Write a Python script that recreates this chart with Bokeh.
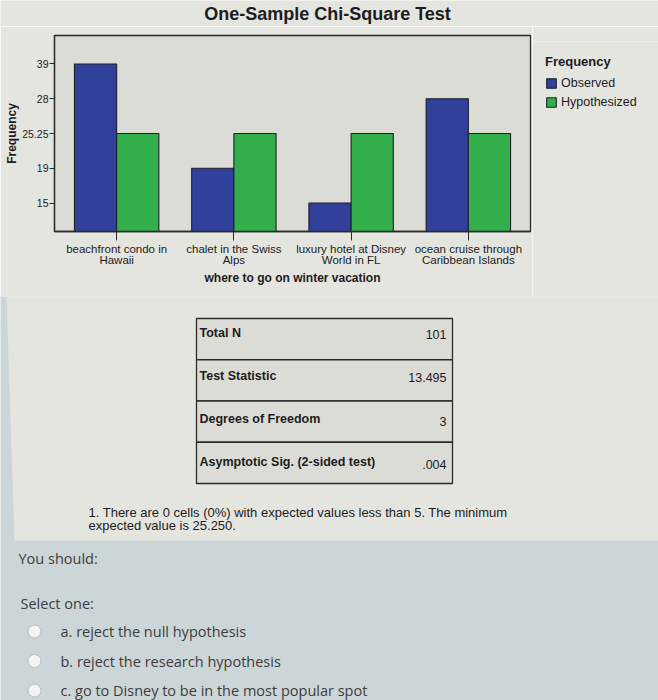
from bokeh.plotting import figure
from bokeh.models import FactorRange, Range1d, Legend, LegendItem, ColumnDataSource
from bokeh.transform import dodge
from bokeh.layouts import column, row
from bokeh.embed import file_html
from bokeh.resources import INLINE
from bokeh.core.properties import value

# ---------------- data ----------------
chart_title = "One-Sample Chi-Square Test"
categories = [
    "beachfront condo in\nHawaii",
    "chalet in the Swiss\nAlps",
    "luxury hotel at Disney\nWorld in FL",
    "ocean cruise through\nCaribbean Islands",
]
observed = [39, 19, 15, 28]
hypothesized = [25.25, 25.25, 25.25, 25.25]
freq_ticks = ["15", "19", "25.25", "28", "39"]   # ordinal frequency axis of the reference
series_names = ["Observed", "Hypothesized"]

table_labels = ["Total N", "Test Statistic", "Degrees of Freedom", "Asymptotic Sig. (2-sided test)"]
table_values = ["101", "13.495", "3", ".004"]
footnote_lines = [
    "1.  There are 0 cells (0%) with expected values less than 5.  The minimum",
    "expected value is 25.250.",
]
prompt_lines = ["You should:", "Select one:"]
options = [
    "a. reject the null hypothesis",
    "b. reject the research hypothesis",
    "c. go to Disney to be in the most popular spot",
]

# ---------------- styles ----------------
BLUE = "#31409a"
GREEN = "#32ae4b"
EDGE = "#1d1f2b"
INK = "#1c1c1c"
PAPER = "#e5e5e0"
FRAME = "#dcdcd7"
PAGE_BLUE = "#ccd5d8"
SANS = "Liberation Sans"
UI = "Open Sans"

def fmt(v):
    return f"{v:g}"

def no_frame_align(fig):
    if "frame_align" in fig.properties():
        fig.frame_align = False

def bare(fig, fill):
    fig.axis.visible = False
    fig.grid.visible = False
    fig.outline_line_color = None
    fig.background_fill_color = fill
    fig.border_fill_color = fill
    no_frame_align(fig)

W = 658
H_T = 26           # title strip
H1 = 270           # chart strip
H2 = 700 - H_T - H1
W_CHART = 532
W_LEG = W - W_CHART

# ---------------- title strip ----------------
tf = figure(width=W, height=H_T, x_range=Range1d(0, W), y_range=Range1d(H_T, 0),
            output_backend="svg", toolbar_location=None, min_border=0)
bare(tf, PAPER)
tf.text(x=[327], y=[13], text=[chart_title], text_font=value(SANS), text_font_size="18px",
        text_font_style="bold", text_color=INK, text_align="center", text_baseline="middle")

# ---------------- chart ----------------
src = ColumnDataSource(dict(
    cat=categories,
    obs=[fmt(v) for v in observed],
    hyp=[fmt(v) for v in hypothesized],
))

x_range = FactorRange(factors=categories, range_padding=0.03, range_padding_units="absolute")
y_range = FactorRange(factors=freq_ticks, range_padding=0.32, range_padding_units="absolute")

p = figure(width=W_CHART, height=H1, x_range=x_range, y_range=y_range,
           output_backend="svg", toolbar_location=None,
           min_border_left=54, min_border_right=2, min_border_top=9, min_border_bottom=65)
no_frame_align(p)
p.title.visible = False
p.title.standoff = 0
p.background_fill_color = FRAME
p.border_fill_color = PAPER
p.outline_line_color = "#2a2a2a"
p.outline_line_width = 1.3
p.xgrid.visible = False
p.ygrid.visible = False

BASELINE = -1  # below the range start; bars are clipped at the axis line
p.vbar(x=dodge("cat", -0.18, range=x_range), top="obs", bottom=BASELINE, width=0.36,
       source=src, fill_color=BLUE, line_color=EDGE, line_width=1.1)
p.vbar(x=dodge("cat", 0.18, range=x_range), top="hyp", bottom=BASELINE, width=0.36,
       source=src, fill_color=GREEN, line_color=EDGE, line_width=1.1)

xa = p.xaxis[0]
xa.axis_label = "where to go on winter vacation"
xa.axis_label_text_font = SANS
xa.axis_label_text_font_size = "12px"
xa.axis_label_text_font_style = "bold"
xa.axis_label_text_color = INK
xa.axis_label_standoff = 2
xa.major_label_text_font = SANS
xa.major_label_text_font_size = "11.5px"
xa.major_label_text_color = INK
xa.major_label_text_line_height = 0.95
xa.major_label_standoff = 2
xa.major_tick_out = 9
xa.major_tick_in = 0
xa.major_tick_line_color = "#2a2a2a"
xa.axis_line_color = "#2a2a2a"
xa.axis_line_width = 1.3

ya = p.yaxis[0]
ya.axis_label = "Frequency"
ya.axis_label_text_font = SANS
ya.axis_label_text_font_size = "12px"
ya.axis_label_text_font_style = "bold"
ya.axis_label_text_color = INK
ya.axis_label_standoff = 0
ya.major_label_text_font = SANS
ya.major_label_text_font_size = "10.5px"
ya.major_label_text_color = INK
ya.major_label_standoff = 1
ya.major_tick_out = 5
ya.major_tick_in = 0
ya.major_tick_line_color = "#2a2a2a"
ya.axis_line_color = "#2a2a2a"
ya.axis_line_width = 1.3

# ---------------- legend panel (to the right of the chart frame) ----------------
lf = figure(width=W_LEG, height=H1, x_range=Range1d(0, 1), y_range=Range1d(0, 1),
            output_backend="svg", toolbar_location=None,
            min_border_left=0, min_border_right=0, min_border_top=15, min_border_bottom=0)
bare(lf, PAPER)
# legend-swatch renderers: their single point lies outside the visible range,
# so only the legend swatch is drawn
SWATCH_ONLY = dict(x=[-5], top=[-5], bottom=[-6])
swatches = [lf.vbar(width=0.5, fill_color=c, line_color=EDGE, line_width=1.1, **SWATCH_ONLY)
            for c in [BLUE, GREEN]]

legend = Legend(items=[LegendItem(label=name, renderers=[r]) for name, r in zip(series_names, swatches)],
                title="Frequency", location="top_left")
legend.title_text_font = SANS
legend.title_text_font_size = "13px"
legend.title_text_font_style = "bold"
legend.title_text_color = INK
legend.title_standoff = 4
legend.label_text_font = SANS
legend.label_text_font_size = "12.5px"
legend.label_text_color = INK
legend.label_standoff = 4
legend.label_height = 19
legend.glyph_width = 12
legend.glyph_height = 12
legend.spacing = 0
legend.padding = 0
legend.margin = 13
legend.background_fill_alpha = 0
legend.border_line_color = None
lf.add_layout(legend, "center")

# ---------------- lower part: table, footnote, question ----------------
q = figure(width=W, height=H2, x_range=Range1d(0, W), y_range=Range1d(H2, 0),
           output_backend="svg", toolbar_location=None, min_border=0)
bare(q, PAGE_BLUE)

# SPSS output panel continues down to the footnote
q.patch(x=[0, W, W, 14, 6, 0], y=[0, 0, 244, 244, 0, 0], fill_color=PAPER, line_color=None)

TBL_L, TBL_R, TBL_T, ROW_H = 196, 452, 22, 41.25
n = len(table_labels)
tops = [TBL_T + i * ROW_H for i in range(n)]
q.quad(left=TBL_L, right=TBL_R, top=tops, bottom=[t + ROW_H for t in tops],
       fill_color=FRAME, line_color="#2b2b2b", line_width=1.3)
q.text(x=TBL_L + 3, y=[t + 14 + 2 * i for i, t in enumerate(tops)], text=table_labels,
       text_font=value(SANS), text_font_size="12.5px", text_font_style="bold",
       text_color=INK, text_baseline="middle", text_align="left")
q.text(x=TBL_R - 6, y=[t + 16 + 2 * i for i, t in enumerate(tops)], text=table_values,
       text_font=value(SANS), text_font_size="12.5px",
       text_color=INK, text_baseline="middle", text_align="right")

q.text(x=88, y=[216 + 13 * i for i in range(len(footnote_lines))], text=footnote_lines,
       text_font=value(SANS), text_font_size="13px", text_color=INK,
       text_baseline="middle", text_align="left")

q.text(x=[18, 20], y=[262, 307], text=prompt_lines,
       text_font=value(UI), text_font_size="14.5px", text_color="#3d3d3d",
       text_baseline="middle", text_align="left")

opt_y = [335 + 29.5 * i for i in range(len(options))]
q.scatter(x=34, y=opt_y, size=13, marker="circle", fill_color="#f4f4f4",
          line_color="#b9bfc2", line_width=1)
q.text(x=60, y=opt_y, text=options,
       text_font=value(UI), text_font_size="14.5px", text_color="#3d3d3d",
       text_baseline="middle", text_align="left")

layout = column(tf, row(p, lf), q)
open("out.html", "w").write(file_html(layout, INLINE))
